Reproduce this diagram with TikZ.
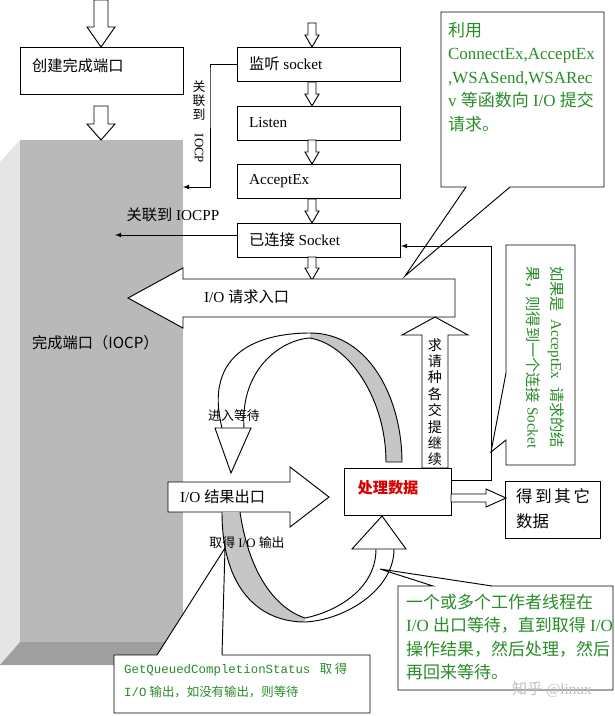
\documentclass[tikz,border=0pt]{standalone}
\usepackage{fontspec}
\setmainfont{Liberation Serif}
\newfontfamily\cjk{Noto Sans CJK SC}
\newfontfamily\mono{Liberation Mono}
\usetikzlibrary{positioning}
\newcommand\zh[1]{{\cjk #1}}
% hollow arrows: x, y start, y end, shaft half, head half, head length
\newcommand\hdown[6]{\draw[hollow] ({#1-#4},#2) -- ({#1-#4},{#3-#6}) -- ({#1-#5},{#3-#6}) -- (#1,#3) -- ({#1+#5},{#3-#6}) -- ({#1+#4},{#3-#6}) -- ({#1+#4},#2) -- cycle;}
\newcommand\hup[6]{\draw[hollow] ({#1-#4},#2) -- ({#1-#4},{#3+#6}) -- ({#1-#5},{#3+#6}) -- (#1,#3) -- ({#1+#5},{#3+#6}) -- ({#1+#4},{#3+#6}) -- ({#1+#4},#2) -- cycle;}
\newcommand\hright[6]{\draw[hollow] (#2,{#1-#4}) -- ({#3-#6},{#1-#4}) -- ({#3-#6},{#1-#5}) -- (#3,#1) -- ({#3-#6},{#1+#5}) -- ({#3-#6},{#1+#4}) -- (#2,{#1+#4}) -- cycle;}
\newcommand\hleft[6]{\draw[hollow] (#2,{#1-#4}) -- ({#3+#6},{#1-#4}) -- ({#3+#6},{#1-#5}) -- (#3,#1) -- ({#3+#6},{#1+#5}) -- ({#3+#6},{#1+#4}) -- (#2,{#1+#4}) -- cycle;}
\definecolor{note}{RGB}{40,140,40}
\begin{document}
\begin{tikzpicture}[x=0.03cm,y=-0.03cm,font=\fontsize{13}{16}\selectfont]
\tikzset{box/.style={draw, thick, anchor=north west, inner sep=0pt},
  hollow/.style={draw, thick, fill=white},
  connect/.style={-latex, thick},
  green/.style={text=note, align=left, anchor=north west, font=\fontsize{14.5}{20}\selectfont}}
\useasboundingbox (0,0) rectangle (615,716);
% IOCP block
\fill[gray!20] (0,162) -- (20,140) -- (20,642) -- (0,665) -- cycle;
\fill[gray!55] (20,140) rectangle (183,642);
\fill[gray!75] (20,642) -- (183,642) -- (163,665) -- (0,665) -- cycle;
\node[anchor=west] (iocp) at (28,343) {\zh{完成端口（IOCP）}};
% left column
\hdown{101}{0}{47}{7}{14}{20}
\node[box, minimum width=163*0.03cm, minimum height=47*0.03cm] (create) at (20,47) {};
\node[anchor=west] at (28,66) {\zh{创建完成端口}};
\hdown{101}{106}{140}{7}{14}{16}
% middle column
\hdown{312}{23}{47}{4}{7}{12}
\foreach \n/\t/\y in {listen0/\zh{监听} socket/47, listen/Listen/106, accept/AcceptEx/164, conn/\zh{已连接} Socket/223}{
  \node[box, minimum width=163*0.03cm, minimum height=34*0.03cm] (\n) at (237,\y) {};
  \node[anchor=west] at (245,{\y+17}) {\t};
}
\hdown{312}{82}{106}{4}{7}{12}
\hdown{312}{140}{164}{4}{7}{12}
\hdown{312}{199}{223}{4}{7}{12}
\hdown{312}{257}{280}{4}{7}{12}
\coordinate (a1) at (183,187);
\draw[connect] (listen0.west) -| (210,70) |- (a1);
\node[font=\fontsize{11}{12}\selectfont, align=center, inner sep=0pt] at (199,122) {\zh{关}\\\zh{联}\\\zh{到}\\\rotatebox{-90}{IOCP}};
\coordinate (a2) at (115,235);
\draw[connect] (conn.west |- a2) -- (a2);
\node at (173,215) {\zh{关联到} IOCPP};
% request entry arrow
\hleft{298}{455}{128}{19}{30}{55}
\node[anchor=west] (req) at (200,297) {I/O \zh{请求入口}};
% top right callout
\draw[thick, fill=white] (441,12) -- (604,12) -- (604,187) -- (510,187) -- (405,276) -- (466,187) -- (441,187) -- cycle;
\node[green] (note1) at (444,18) {\zh{利用}\\ConnectEx,AcceptEx\\,WSASend,WSARec\\v \zh{等函数向} I/O \zh{提交}\\\zh{请求。}};
% continue submit arrow
\hup{435}{468}{317}{13}{33}{18}
\node[font=\fontsize{12}{14}\selectfont, align=center, inner sep=0pt, anchor=north] at (435,338) {\zh{求}\\\zh{请}\\\zh{种}\\\zh{各}\\\zh{交}\\\zh{提}\\\zh{继}\\\zh{续}};
% process box
\node[box, minimum width=107*0.03cm, minimum height=47*0.03cm] (proc) at (344,468) {};
\node[text=red!85!black, font=\fontsize{13}{15}\bfseries] at (388,488) {\zh{处理数据}};
\draw[connect] (proc.east |- 0,480) -| (491,246) -- (conn.east |- 0,246);
% right callout
\draw[thick, fill=white] (506,245) -- (575,245) -- (575,465) -- (506,465) -- (506,440) -- (491,452) -- (506,373) -- cycle;
\node[rotate=-90, text=note, anchor=north west, align=left, font=\fontsize{13}{20}\selectfont] (note2) at (568,262) {\zh{如果是}\ \ AcceptEx\ \ \zh{请求的结}\\\zh{果，则得到一个连接} Socket};
% other data
\hright{498}{451}{506}{4}{9}{20}
\node[box, minimum width=95*0.03cm, minimum height=57*0.03cm] (other) at (505,481) {};
\node[anchor=north west, align=left, font=\fontsize{14}{22}\selectfont] at (512,484) {\zh{得\,到\,其\,它}\\\zh{数据}};
% result exit arrow
\hright{497}{168}{329}{15}{30}{39}
\node[anchor=west] (res) at (176,497) {I/O \zh{结果出口}};
% upper loop
\fill[white] (222,428) .. controls (200,340) and (280,333) .. (310,333) .. controls (370,333) and (402,400) .. (402,462) -- (386,462) .. controls (386,400) and (350,345) .. (310,338) .. controls (280,340) and (240,370) .. (244,428) -- cycle;
\begin{scope}
\clip (310,300) rectangle (420,470);
\fill[gray!45] (222,428) .. controls (200,340) and (280,333) .. (310,333) .. controls (370,333) and (402,400) .. (402,462) -- (386,462) .. controls (386,400) and (350,345) .. (310,338) .. controls (280,340) and (240,370) .. (244,428) -- cycle;
\end{scope}
\draw[thick] (222,428) .. controls (200,340) and (280,333) .. (310,333) .. controls (370,333) and (402,400) .. (402,462) -- (386,462) .. controls (386,400) and (350,345) .. (310,338) .. controls (280,340) and (240,370) .. (244,428);
\draw[hollow] (215,428) -- (251,428) -- (231,473) -- cycle;
\node[font=\fontsize{11}{12}\selectfont] (wait) at (234,416) {\zh{进入等待}};
% lower loop
\fill[white] (222,512) .. controls (222,590) and (260,622) .. (305,622) .. controls (345,620) and (394,590) .. (394,549) -- (376,549) .. controls (376,590) and (335,612) .. (305,618) .. controls (280,610) and (250,580) .. (240,512) -- cycle;
\begin{scope}
\clip (200,505) rectangle (305,640);
\fill[gray!45] (222,512) .. controls (222,590) and (260,622) .. (305,622) -- (305,618) .. controls (280,610) and (250,580) .. (240,512) -- cycle;
\end{scope}
\draw[thick] (222,512) .. controls (222,590) and (260,622) .. (305,622) .. controls (345,620) and (394,590) .. (394,549);
\draw[thick] (376,549) .. controls (376,590) and (335,612) .. (305,618) .. controls (280,610) and (250,580) .. (240,512);
\draw[hollow] (352,549) -- (406,549) -- (382,516) -- cycle;
\node[font=\fontsize{11}{12}\selectfont] (get) at (247,543) {\zh{取得} I/O \zh{输出}};
% bottom callouts
\draw[thick, fill=white] (114,655) -- (157,655) -- (225,548) -- (222,655) -- (370,655) -- (370,713) -- (114,713) -- cycle;
\node[green, font=\fontsize{10.6}{20}\selectfont] (note3) at (120,659) {{\mono GetQueuedCompletionStatus}\ \ \ \zh{取\ 得}\\{\mono I/O} \zh{输出，如没有输出，则等待}};
\draw[thick, fill=white] (398,586) -- (433,586) -- (380,569) -- (492,586) -- (613,586) -- (613,690) -- (398,690) -- cycle;
\node[green] (note4) at (402,590) {\zh{一个或多个工作者线程在}\\I/O\ \zh{出口等待，直到取得} I/O\\\zh{操作结果，然后处理，然后}\\\zh{再回来等待。}};
\node[text=gray!50, font=\fontsize{13}{14}\selectfont] (mark) at (552,690) {\zh{知乎} @linux};
\end{tikzpicture}
\end{document}
